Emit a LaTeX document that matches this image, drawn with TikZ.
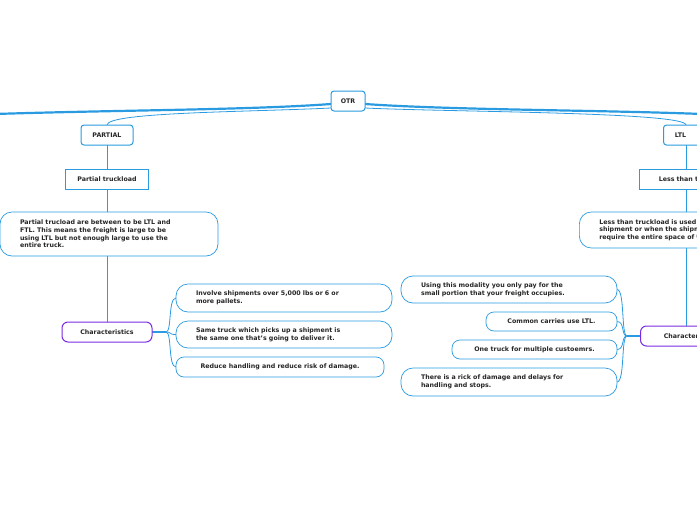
\documentclass[tikz,border=0pt]{standalone}
\usepackage{fontspec}
\setmainfont{DejaVu Sans}
\definecolor{lb}{HTML}{2A9BE0}
\definecolor{pu}{HTML}{7A2BE0}
\begin{document}
\begin{tikzpicture}[x=1pt,y=-1pt,
  every node/.style={font=\bfseries\fontsize{6.3}{7.6}\selectfont, text=black!85, inner sep=0pt},
  topic/.style={draw=lb, line width=1pt, rounded corners=3pt, fill=white, minimum height=20pt, align=center},
  sub/.style={draw=lb, line width=0.7pt, fill=white, minimum height=20pt, align=center},
  pill/.style={draw=lb, line width=0.7pt, rounded corners=12pt, fill=white, align=left},
  charb/.style={draw=pu, line width=1pt, rounded corners=6pt, fill=white, minimum height=20pt, align=center},
  link/.style={draw=lb, line width=0.8pt},
  trunk/.style={draw=lb, line width=2.2pt}]
\useasboundingbox (0,0) rectangle (697,520);
\clip (0,0) rectangle (697,520);
\coordinate (lend) at (-5,114);
\coordinate (rend) at (702,114);
\coordinate (hl) at (166,332);
\coordinate (hr) at (627,336);
\draw[trunk] (331,104) .. controls (250,110) and (120,110) .. (lend);
\draw[trunk] (365,104) .. controls (450,110) and (600,110) .. (rend);
\draw[link] (331,108) .. controls (250,112) and (107,112) .. (107,125);
\draw[link] (365,108) .. controls (450,112) and (686,112) .. (686,125);
\draw[link] (107,135) -- (107,332);
\draw[link] (686,135) -- (686,336);
\draw[link, line width=1.5pt] (152,332) -- (hl);
\draw[link, line width=1.5pt] (640,336) -- (hr);
\foreach \y in {298,334.5,367} \draw[link] (hl) .. controls (172,332) and (168,\y) .. (176,\y);
\foreach \y in {289.5,321.5,349.5,382} \draw[link] (hr) .. controls (621,336) and (625,\y) .. (617,\y);
\node[topic, minimum width=34pt] (otr) at (348,101) {OTR};
\node[topic, minimum width=52pt] (partial) at (107,135) {PARTIAL};
\node[sub, minimum width=83pt] (pt) at (107,179) {Partial truckload};
\node[pill, minimum width=218pt, minimum height=44pt, text width=178pt] (pd) at (109,234) {Partial trucload are between to be LTL and\\FTL. This means the freight is large to be\\using LTL but not enough large to use the\\entire truck.};
\node[charb, minimum width=90pt] (chl) at (107,332) {Characteristics};
\node[pill, minimum width=216pt, minimum height=28pt, text width=176pt] (l1) at (284,298) {Involve shipments over 5,000 lbs or 6 or\\more pallets.};
\node[pill, minimum width=216pt, minimum height=27pt, text width=176pt] (l2) at (284,334.5) {Same truck which picks up a shipment is\\the same one that's going to deliver it.};
\node[pill, minimum width=208pt, minimum height=20pt, rounded corners=8pt] (l3) at (280,367) {Reduce handling and reduce risk of damage.};
\node[topic, minimum width=48pt, anchor=west] (ltl) at (663,135) {LTL\hspace{14pt}};
\node[sub, minimum width=100pt, anchor=west] (lt) at (639,179) {\hspace{9pt}Less than truckload};
\node[pill, minimum height=36pt, anchor=west, text width=200pt] (ld) at (579,230) {\hspace*{20pt}\parbox{180pt}{Less than truckload is used for small\\shipment or when the shipment does not\\require the entire space of the truck.}};
\node[charb, minimum width=92pt, anchor=west] (chr) at (640,336) {\hspace{8pt}Characteristics};
\node[pill, minimum width=216pt, minimum height=27pt, text width=176pt] (r1) at (509,289.5) {Using this modality you only pay for the\\small portion that your freight occupies.};
\node[pill, minimum width=131pt, minimum height=19pt, rounded corners=8pt] (r2) at (551.5,321.5) {Common carries use LTL.};
\node[pill, minimum width=165pt, minimum height=19pt, rounded corners=8pt] (r3) at (534.5,349.5) {One truck for multiple custoemrs.};
\node[pill, minimum width=216pt, minimum height=28pt, text width=176pt] (r4) at (509,382) {There is a rick of damage and delays for\\handling and stops.};
\end{tikzpicture}
\end{document}
